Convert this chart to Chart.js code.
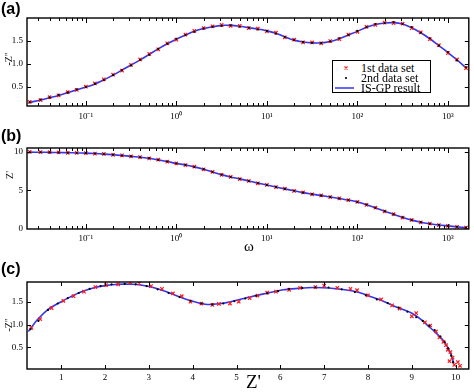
<!DOCTYPE html>
<html><head><meta charset="utf-8">
<script src="https://cdn.jsdelivr.net/npm/chart.js@4/dist/chart.umd.min.js"></script>
<style>
body{margin:0;background:#fff;width:474px;height:392px;position:relative;overflow:hidden;font-family:"Liberation Serif","Times New Roman",serif;}
.box{position:absolute;left:0;width:474px;}
.pl{position:absolute;font-family:"Liberation Sans",Arial,sans-serif;font-weight:bold;font-size:16px;line-height:16px;}
.yt{position:absolute;width:30px;height:12px;line-height:12px;text-align:center;font-size:10px;transform:rotate(-90deg);white-space:nowrap;}
.xt{position:absolute;white-space:nowrap;}
#leg{position:absolute;left:332px;top:60px;width:97px;height:31px;border:1px solid #000;background:#fff;font-size:12px;line-height:10px;}
#leg div{position:absolute;left:28px;}
#leg svg{position:absolute;left:0;top:0;}
</style></head>
<body>
<div class="box" style="top:0;height:126px"><canvas id="ca"></canvas></div>
<div class="box" style="top:130px;height:119px"><canvas id="cb"></canvas></div>
<div class="box" style="top:262px;height:127px"><canvas id="cc"></canvas></div>

<div class="pl" style="left:1px;top:1px">(a)</div>
<div class="pl" style="left:1px;top:128px">(b)</div>
<div class="pl" style="left:1px;top:261px">(c)</div>

<div class="yt" style="left:-6px;top:53px">-Z''</div>
<div class="yt" style="left:-5px;top:169px">Z'</div>
<div class="yt" style="left:-6px;top:319px">-Z''</div>

<div class="xt" style="left:244px;top:238px;font-size:15px">ω</div>
<div class="xt" style="left:246px;top:371px;font-size:19px">Z'</div>

<div id="leg">
<svg width="97" height="31">
<path d="M11.5 5.5 L14.5 8.5 M14.5 5.5 L11.5 8.5" stroke="#ff2020" stroke-width="1.2"/>
<circle cx="13" cy="17" r="1.1" fill="#000"/>
<line x1="2" y1="27" x2="21" y2="27" stroke="#3535ee" stroke-width="1.5"/>
</svg>
<div style="top:2px">1st data set</div>
<div style="top:12px">2nd data set</div>
<div style="top:22px">IS-GP result</div>
</div>

<script>
// ---- panel (a) & (b): frequency axis ----
const omega = [0.024,0.0316,0.0398,0.0501,0.0631,0.0794,0.1,0.126,0.158,0.2,0.251,0.316,0.398,0.501,0.631,0.794,1,1.26,1.58,2,2.51,3.16,3.98,5.01,6.31,7.94,10,12.6,15.8,20,25.1,31.6,39.8,50.1,63.1,79.4,100,126,158,200,251,316,398,501,631,794,1000,1259,1585];
// -Z'' (panel a)
const imFit = [0.16,0.21,0.26,0.31,0.37,0.43,0.49,0.56,0.65,0.75,0.86,0.97,1.08,1.20,1.32,1.43,1.53,1.62,1.70,1.76,1.80,1.83,1.83,1.81,1.78,1.75,1.71,1.66,1.58,1.51,1.47,1.45,1.45,1.48,1.54,1.62,1.70,1.79,1.85,1.88,1.89,1.86,1.78,1.67,1.54,1.39,1.24,1.08,0.91];
const im1 = [0.17,0.21,0.27,0.31,0.38,0.43,0.50,0.57,0.66,0.76,0.85,0.97,1.09,1.21,1.31,1.44,1.52,1.63,1.71,1.77,1.81,1.84,1.82,1.82,1.77,1.76,1.70,1.67,1.57,1.52,1.46,1.46,1.44,1.49,1.53,1.63,1.69,1.80,1.84,1.89,1.88,1.87,1.77,1.68,1.53,1.40,1.23,1.09,0.90];
const im2 = [0.16,0.22,0.26,0.32,0.37,0.44,0.49,0.56,0.64,0.75,0.86,0.96,1.08,1.19,1.32,1.43,1.54,1.62,1.69,1.76,1.80,1.82,1.83,1.80,1.78,1.74,1.71,1.65,1.58,1.51,1.47,1.45,1.45,1.48,1.55,1.62,1.71,1.79,1.86,1.88,1.90,1.86,1.79,1.67,1.55,1.39,1.25,1.07,0.92];
// Z' (panel b)
const reFit = [9.96,9.95,9.93,9.91,9.89,9.86,9.83,9.78,9.71,9.63,9.53,9.42,9.30,9.17,8.96,8.74,8.50,8.30,8.05,7.75,7.40,7.05,6.75,6.50,6.22,5.95,5.70,5.45,5.20,4.95,4.72,4.52,4.33,4.15,3.95,3.75,3.50,3.15,2.75,2.30,1.90,1.50,1.15,0.88,0.68,0.52,0.40,0.28,0.18];
const re1 = [10.0,9.98,9.95,9.93,9.88,9.88,9.85,9.77,9.73,9.62,9.55,9.40,9.32,9.15,8.98,8.72,8.52,8.28,8.07,7.73,7.42,7.03,6.77,6.48,6.24,5.93,5.72,5.43,5.22,4.93,4.74,4.50,4.35,4.13,3.97,3.73,3.52,3.13,2.77,2.28,1.92,1.48,1.17,0.86,0.70,0.50,0.41,0.27,0.19];
const re2 = [9.95,9.95,9.92,9.91,9.90,9.85,9.83,9.79,9.70,9.64,9.52,9.43,9.29,9.18,8.95,8.75,8.49,8.31,8.04,7.76,7.39,7.06,6.74,6.51,6.21,5.96,5.69,5.46,5.19,4.96,4.71,4.53,4.32,4.16,3.94,3.76,3.49,3.16,2.74,2.31,1.89,1.51,1.14,0.89,0.67,0.53,0.39,0.29,0.17];
// ---- panel (c): Nyquist plot ----
const fitRe = [0.25,0.30,0.45,0.71,1.0,1.2,1.45,1.73,2.0,2.33,2.6,2.85,3.1,3.37,3.66,4.0,4.34,4.72,5.17,5.62,6.07,6.4,6.75,7.1,7.47,7.8,8.04,8.3,8.6,8.98,9.2,9.35,9.55,9.72,9.82,9.9,9.96];
const fitIm = [0.85,0.91,1.10,1.34,1.50,1.60,1.71,1.80,1.85,1.88,1.88,1.86,1.81,1.73,1.62,1.51,1.44,1.47,1.57,1.67,1.76,1.79,1.81,1.80,1.76,1.70,1.62,1.53,1.40,1.26,1.12,0.99,0.82,0.65,0.50,0.33,0.15];
const nyqRe1 = [0.32,0.52,0.78,1.05,1.28,1.52,1.78,2.02,2.3,2.58,2.78,3.05,3.3,3.55,3.75,3.95,4.2,4.45,4.6,4.85,5.05,5.3,5.48,5.7,5.9,6.2,6.45,6.8,7.0,7.3,7.6,7.75,8.0,8.3,8.55,8.72,9.0,9.1,9.3,9.42,9.55,9.63,9.72,9.78,9.82,9.88,9.93,9.86,9.97,10.05,10.1];
const nyqIm1 = [0.93,1.12,1.36,1.52,1.62,1.72,1.82,1.86,1.88,1.92,1.90,1.84,1.78,1.68,1.62,1.50,1.46,1.43,1.45,1.46,1.50,1.58,1.63,1.70,1.72,1.76,1.80,1.82,1.85,1.80,1.78,1.75,1.64,1.55,1.42,1.35,1.18,1.25,1.05,0.98,0.85,0.72,0.62,0.55,0.45,0.40,0.28,0.20,0.12,0.18,0.10];
const nyqRe2 = [0.30,0.48,0.70,0.92,1.15,1.40,1.65,1.90,2.15,2.45,2.7,2.95,3.2,3.45,3.7,3.95,4.2,4.45,4.7,4.95,5.2,5.45,5.7,5.95,6.2,6.5,6.8,7.1,7.4,7.7,7.95,8.2,8.45,8.7,8.9,9.1,9.25,9.4,9.52,9.65,9.75,9.83,9.9,9.94];
const nyqIm2 = [0.90,1.08,1.32,1.46,1.58,1.69,1.78,1.84,1.88,1.89,1.88,1.84,1.77,1.69,1.60,1.52,1.46,1.44,1.46,1.51,1.57,1.63,1.68,1.73,1.78,1.80,1.81,1.81,1.77,1.71,1.64,1.55,1.47,1.37,1.28,1.16,1.08,0.97,0.88,0.74,0.62,0.48,0.32,0.18];
// tick labels
const decadeLabels = {"-1":"10⁻¹","0":"10⁰","1":"10¹","2":"10²","3":"10³"};

Chart.defaults.font.family = '"Liberation Serif", "Times New Roman", serif';
const RED = '#ff1a1a', BLUE = '#3535ee';
const pts = (xs, ys) => xs.map((x, i) => ({x, y: ys[i]}));
const isDecade = v => Math.abs(Math.log10(v) - Math.round(Math.log10(v))) < 1e-9;
const tickFont = {family: '"Liberation Serif", "Times New Roman", serif', size: 9};

const frameTicks = {
  id: 'frameTicks',
  afterDraw(chart, args, opts) {
    const {ctx, chartArea: a} = chart;
    const xs = chart.scales.x, ys = chart.scales.y;
    ctx.save();
    ctx.strokeStyle = '#000';
    ctx.lineWidth = 1;
    ctx.beginPath();
    xs.ticks.forEach(t => {
      const px = Math.round(xs.getPixelForValue(t.value)) + 0.5;
      if (px < a.left + 1 || px > a.right - 1) return;
      const len = opts.logX ? (isDecade(t.value) ? 5 : 3) : 4;
      ctx.moveTo(px, a.bottom); ctx.lineTo(px, a.bottom - len);
      ctx.moveTo(px, a.top); ctx.lineTo(px, a.top + len);
    });
    ys.ticks.forEach(t => {
      const py = Math.round(ys.getPixelForValue(t.value)) + 0.5;
      if (py < a.top + 1 || py > a.bottom - 1) return;
      ctx.moveTo(a.left, py); ctx.lineTo(a.left + 4, py);
      ctx.moveTo(a.right, py); ctx.lineTo(a.right - 4, py);
    });
    ctx.stroke();
    ctx.lineWidth = 1.4;
    ctx.strokeRect(a.left, a.top, a.right - a.left, a.bottom - a.top);
    ctx.restore();
  }
};

function logX(padTop) {
  return {
    type: 'logarithmic', min: 0.0224, max: 1700,
    grid: {display: false, drawTicks: false}, border: {display: false},
    afterBuildTicks: s => {
      const t = [];
      for (let e = -2; e <= 3; e++) for (let m = 1; m <= 9; m++) {
        const v = m * Math.pow(10, e);
        if (v >= s.min && v <= s.max) t.push({value: v});
      }
      s.ticks = t;
    },
    afterFit: s => { s.height = 20; },
    ticks: {autoSkip: false, maxRotation: 0, minRotation: 0, padding: padTop, color: '#000', font: tickFont,
      callback: v => isDecade(v) ? decadeLabels[String(Math.round(Math.log10(v)))] : ''}
  };
}
function linY(min, max, step) {
  return {
    type: 'linear', min, max,
    grid: {display: false, drawTicks: false}, border: {display: false},
    afterFit: s => { s.width = 27; },
    ticks: {stepSize: step, includeBounds: false, padding: 4, color: '#000', font: tickFont}
  };
}
function datasets(d1, d2, fit) {
  return [
    {data: d2, showLine: false, pointStyle: 'circle', pointRadius: 1.1, pointBackgroundColor: '#000', pointBorderWidth: 0, order: 0},
    {data: d1, showLine: false, pointStyle: 'crossRot', pointRadius: 2.4, pointBorderColor: RED, pointBorderWidth: 1.2, order: 1},
    {data: fit, showLine: true, borderColor: BLUE, borderWidth: 1.6, pointRadius: 0, tension: 0.3, fill: false, order: 2}
  ];
}
function make(id, ds, xs, ys, pad, logx) {
  new Chart(document.getElementById(id), {
    type: 'scatter',
    data: {datasets: ds},
    options: {
      responsive: true, maintainAspectRatio: false, animation: false,
      layout: {padding: pad},
      plugins: {legend: {display: false}, tooltip: {enabled: false}, frameTicks: {logX: logx}},
      scales: {x: xs, y: ys}
    },
    plugins: [frameTicks]
  });
}

make('ca', datasets(pts(omega, im1), pts(omega, im2), pts(omega, imFit)),
  logX(5), linY(0.08, 1.99, 0.5), {top: 18, right: 2, left: 0, bottom: 0}, true);
make('cb', datasets(pts(omega, re1), pts(omega, re2), pts(omega, reFit)),
  logX(4), linY(0, 10.5, 5), {top: 18, right: 2, left: 0, bottom: 0}, true);
const xc = {type: 'linear', min: 0.22, max: 10.3,
  grid: {display: false, drawTicks: false}, border: {display: false},
  afterFit: s => { s.height = 20; },
  ticks: {stepSize: 1, includeBounds: false, padding: 3, color: '#000', font: tickFont, maxRotation: 0, autoSkip: false}};
make('cc', datasets(pts(nyqRe1, nyqIm1), pts(nyqRe2, nyqIm2), pts(fitRe, fitIm)),
  xc, linY(0.03, 1.93, 0.5), {top: 20, right: 1, left: 0, bottom: 0}, false);
</script>
</body></html>
